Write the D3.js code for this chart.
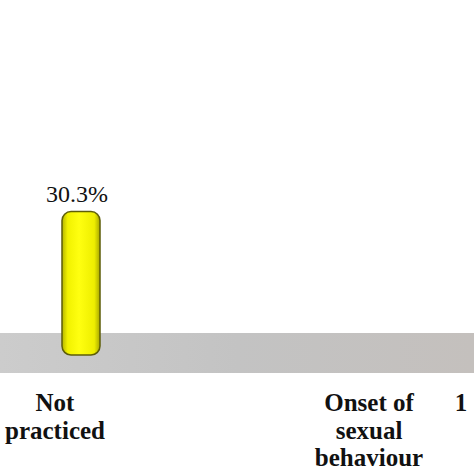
<!DOCTYPE html>
<html>
<head>
<meta charset="utf-8">
<script src="https://cdn.jsdelivr.net/npm/d3@7"></script>
<style>
  body { margin: 0; background: #fff; }
  svg { display: block; }
  text { font-family: "Liberation Serif", "Times New Roman", Times, "DejaVu Serif", serif; }
</style>
</head>
<body>
<div id="chart"></div>
<script>
// data
const categories = ["Not practiced", "Onset of sexual behaviour", "1"];
const categoryLines = [["Not", "practiced"], ["Onset of", "sexual", "behaviour"], ["1"]];
const values = [30.3, null, null];
const valueLabels = ["30.3%", "", ""];

const width = 474, height = 474;

const svg = d3.select("#chart").append("svg")
    .attr("width", width)
    .attr("height", height);

// scales
const x = d3.scaleOrdinal()
    .domain(categories)
    .range([55, 369, 461]);

const y = d3.scaleLinear()
    .domain([0, 75])
    .range([355, 0]);

const barWidth = 38, barShift = 26;

// gradients
const defs = svg.append("defs");
const floorGrad = defs.append("linearGradient").attr("id", "floorGrad")
    .attr("x1", "0%").attr("x2", "100%");
floorGrad.append("stop").attr("offset", "0%").attr("stop-color", "#cccccc");
floorGrad.append("stop").attr("offset", "50%").attr("stop-color", "#c3c3c3");
floorGrad.append("stop").attr("offset", "100%").attr("stop-color", "#c4c0bd");

const barGrad = defs.append("linearGradient").attr("id", "barGrad")
    .attr("x1", "0%").attr("x2", "100%");
barGrad.append("stop").attr("offset", "0%").attr("stop-color", "#b5b500");
barGrad.append("stop").attr("offset", "15%").attr("stop-color", "#f2f200");
barGrad.append("stop").attr("offset", "45%").attr("stop-color", "#ffff10");
barGrad.append("stop").attr("offset", "85%").attr("stop-color", "#eeee00");
barGrad.append("stop").attr("offset", "100%").attr("stop-color", "#a8a800");

// floor band
svg.append("rect")
    .attr("x", 0)
    .attr("y", 333)
    .attr("width", width)
    .attr("height", 40)
    .attr("fill", "url(#floorGrad)");

// bars
const barData = categories.map((c, i) => ({ cat: c, value: values[i], label: valueLabels[i] }))
    .filter(d => d.value != null);

svg.selectAll("rect.bar")
    .data(barData)
    .enter()
    .append("rect")
    .attr("class", "bar")
    .attr("x", d => x(d.cat) + barShift - barWidth / 2)
    .attr("y", d => y(d.value))
    .attr("width", barWidth)
    .attr("height", d => y(0) - y(d.value))
    .attr("rx", 9)
    .attr("ry", 9)
    .attr("fill", "url(#barGrad)")
    .attr("stroke", "#5e5e08")
    .attr("stroke-width", 1.5);

// value labels
svg.selectAll("text.value")
    .data(barData)
    .enter()
    .append("text")
    .attr("class", "value")
    .attr("x", d => x(d.cat) + barShift - 4)
    .attr("y", d => y(d.value) - 10)
    .attr("text-anchor", "middle")
    .attr("font-size", 24)
    .attr("fill", "#111")
    .text(d => d.label);

// category labels
const labels = svg.selectAll("text.cat")
    .data(categories)
    .enter()
    .append("text")
    .attr("class", "cat")
    .attr("text-anchor", "middle")
    .attr("font-weight", "bold")
    .attr("font-size", 25)
    .attr("fill", "#111");

labels.each(function (c, i) {
    d3.select(this).selectAll("tspan")
        .data(categoryLines[i])
        .enter()
        .append("tspan")
        .attr("x", x(c))
        .attr("y", (d, j) => 411 + j * 27.5)
        .text(d => d);
});
</script>
</body>
</html>
